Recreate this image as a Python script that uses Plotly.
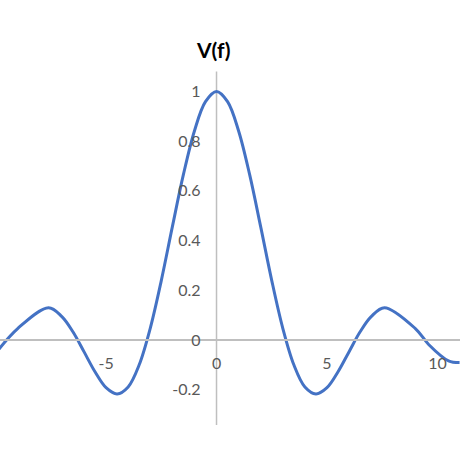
import plotly.graph_objects as go

# samples of V(f)
f_vals = [-10, -9, -7.6, -7, -6.5, -6, -5.5, -5, -4.5, -4, -3.5, -3, -2.5, -2, -1.5, -1, -0.5,
          0, 0.5, 1, 1.5, 2, 2.5, 3, 3.5, 4, 4.5, 5, 5.5, 6, 6.5, 7, 7.6, 9, 9.6, 10.5, 11]
v_vals = [-0.054, 0.046, 0.130, 0.094, 0.033, -0.047, -0.128, -0.192, -0.217, -0.189, -0.100,
          0.047, 0.239, 0.455, 0.665, 0.841, 0.959,
          1.0, 0.959, 0.841, 0.665, 0.455, 0.239, 0.047, -0.100, -0.189, -0.217, -0.192,
          -0.128, -0.047, 0.033, 0.094, 0.130, 0.046, -0.018, -0.084, -0.091]

x_ticks = [-5, 0, 5, 10]
x_labels = ["-5", "0", "5", "10"]
y_ticks = [-0.2, 0, 0.2, 0.4, 0.6, 0.8, 1]
y_labels = ["-0.2", "0", "0.2", "0.4", "0.6", "0.8", "1"]

x_range = [-9.8, 11.02]
y_range = [-0.483, 1.368]
axis_grey = "#BFBFBF"
label_grey = "#595959"

fig = go.Figure()
fig.add_trace(go.Scatter(
    x=f_vals, y=v_vals,
    mode="lines",
    line=dict(color="#4472C4", width=3, shape="spline", smoothing=1),
    hoverinfo="x+y",
    showlegend=False,
))

# vertical axis line (shorter than the plot area, like the source)
fig.add_shape(type="line", xref="x", yref="y", x0=0, x1=0, y0=-0.342, y1=1.08,
              line=dict(color=axis_grey, width=1.5), layer="below")

# "-10" label mostly hangs off the left edge
fig.add_annotation(x=-10, y=0, xref="x", yref="y", text="-10", showarrow=False,
                   yshift=-25, font=dict(family="Lato", size=16, color=label_grey))

fig.add_annotation(x=-0.15, y=1.167, xref="x", yref="y", text="<b>V(f)</b>",
                   showarrow=False, font=dict(family="Lato", size=21, color="black"))

x_pos = (0 - y_range[0]) / (y_range[1] - y_range[0])
y_pos = (0 - x_range[0]) / (x_range[1] - x_range[0])

fig.update_layout(
    width=460, height=460,
    margin=dict(l=0, r=0, t=0, b=0),
    plot_bgcolor="white", paper_bgcolor="white",
    font=dict(family="Lato", size=16, color=label_grey),
    xaxis=dict(range=x_range, anchor="free", position=x_pos, showgrid=False,
               zeroline=False, showline=True, linecolor=axis_grey, linewidth=1.5,
               tickvals=x_ticks, ticktext=x_labels, ticks="", ticklabelstandoff=9,
               automargin=False),
    yaxis=dict(range=y_range, anchor="free", position=y_pos, showgrid=False,
               zeroline=False, showline=False, tickvals=y_ticks, ticktext=y_labels,
               ticks="", ticklabelstandoff=16, automargin=False),
)

# drop the default page margin so the chart fills the window
fig.write_html("out.html", config={"displayModeBar": False},
               post_script="document.body.style.margin='0';")
